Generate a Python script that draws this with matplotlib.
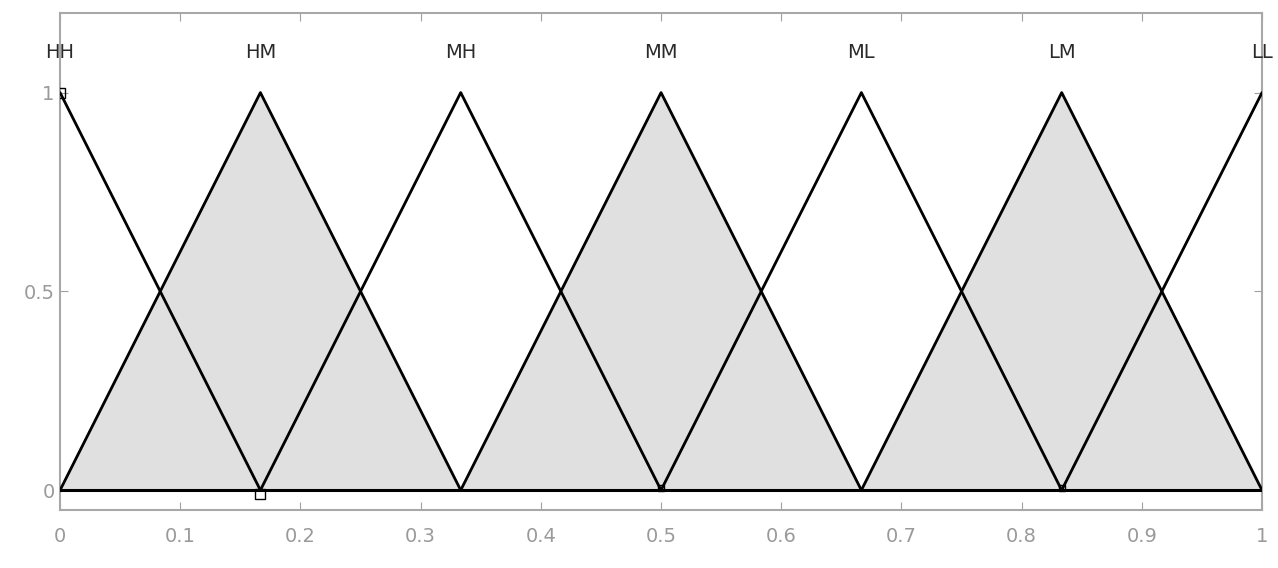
import numpy as np
import matplotlib.pyplot as plt

labels = ['HH', 'HM', 'MH', 'MM', 'ML', 'LM', 'LL']
centers = [0, 1/6, 2/6, 3/6, 4/6, 5/6, 1]
half_width = 1/6
shaded = ['HM', 'MM', 'LM']

fig = plt.figure(figsize=(12.78, 5.68), dpi=100)
ax = fig.add_axes([0.047, 0.102, 0.9405, 0.875])

for name, c in zip(labels, centers):
    xs = np.array([c - half_width, c, c + half_width])
    ys = np.array([0.0, 1.0, 0.0])
    if name in shaded:
        ax.fill(xs, ys, color='#e0e0e0', zorder=1, lw=0)
    ax.plot(xs, ys, color='black', lw=2, zorder=3, clip_on=True)
    ax.text(c, 1.1, name, ha='center', va='center', fontsize=14, color='#2a2a2a')

ax.axhline(0, color='black', lw=2.2, zorder=3)

# small square markers left over from the original plot
ax.plot([0], [1], 's', ms=7, mfc='none', mec='black', mew=1, zorder=4)
ax.plot([1/6], [-0.01], 's', ms=7, mfc='none', mec='black', mew=1, zorder=4)
ax.plot([0.5, 5/6], [0.005, 0.005], 's', ms=5, mfc='none', mec='black', mew=1, zorder=4)

ax.set_xlim(0, 1)
ax.set_ylim(-0.05, 1.2)
ax.set_xticks(np.arange(0, 1.01, 0.1))
ax.set_xticklabels(['0', '0.1', '0.2', '0.3', '0.4', '0.5', '0.6', '0.7', '0.8', '0.9', '1'])
ax.set_yticks([0, 0.5, 1])
ax.set_yticklabels(['0', '0.5', '1'])
ax.tick_params(direction='in', top=True, right=True, colors='#a0a0a0',
               labelcolor='#9a9a9a', labelsize=14, length=6)
ax.tick_params(axis='x', pad=12)
ax.tick_params(axis='y', pad=4)
for s in ax.spines.values():
    s.set_color('#a8a8a8')
    s.set_linewidth(1.5)

plt.savefig('out.png', dpi=100)
